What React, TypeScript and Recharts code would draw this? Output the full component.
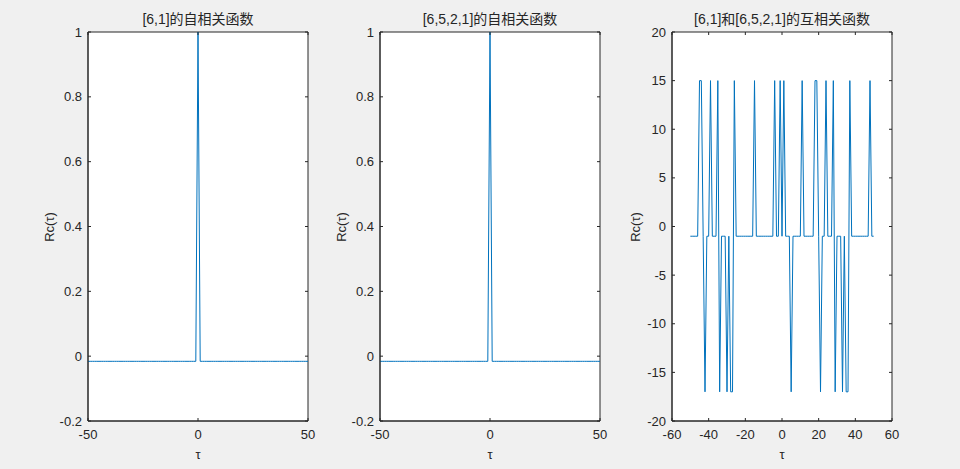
import { LineChart, Line, XAxis, YAxis, ReferenceArea } from 'recharts';

// lag axis shared by all three panels
const lags = [
  -50, -49, -48, -47, -46, -45, -44, -43, -42, -41,
  -40, -39, -38, -37, -36, -35, -34, -33, -32, -31,
  -30, -29, -28, -27, -26, -25, -24, -23, -22, -21,
  -20, -19, -18, -17, -16, -15, -14, -13, -12, -11,
  -10, -9, -8, -7, -6, -5, -4, -3, -2, -1,
  0, 1, 2, 3, 4, 5, 6, 7, 8, 9,
  10, 11, 12, 13, 14, 15, 16, 17, 18, 19,
  20, 21, 22, 23, 24, 25, 26, 27, 28, 29,
  30, 31, 32, 33, 34, 35, 36, 37, 38, 39,
  40, 41, 42, 43, 44, 45, 46, 47, 48, 49,
  50,
];

const autoCorr61 = [
  -0.0159, -0.0159, -0.0159, -0.0159, -0.0159, -0.0159, -0.0159, -0.0159, -0.0159, -0.0159,
  -0.0159, -0.0159, -0.0159, -0.0159, -0.0159, -0.0159, -0.0159, -0.0159, -0.0159, -0.0159,
  -0.0159, -0.0159, -0.0159, -0.0159, -0.0159, -0.0159, -0.0159, -0.0159, -0.0159, -0.0159,
  -0.0159, -0.0159, -0.0159, -0.0159, -0.0159, -0.0159, -0.0159, -0.0159, -0.0159, -0.0159,
  -0.0159, -0.0159, -0.0159, -0.0159, -0.0159, -0.0159, -0.0159, -0.0159, -0.0159, -0.0159,
  1, -0.0159, -0.0159, -0.0159, -0.0159, -0.0159, -0.0159, -0.0159, -0.0159, -0.0159,
  -0.0159, -0.0159, -0.0159, -0.0159, -0.0159, -0.0159, -0.0159, -0.0159, -0.0159, -0.0159,
  -0.0159, -0.0159, -0.0159, -0.0159, -0.0159, -0.0159, -0.0159, -0.0159, -0.0159, -0.0159,
  -0.0159, -0.0159, -0.0159, -0.0159, -0.0159, -0.0159, -0.0159, -0.0159, -0.0159, -0.0159,
  -0.0159, -0.0159, -0.0159, -0.0159, -0.0159, -0.0159, -0.0159, -0.0159, -0.0159, -0.0159,
  -0.0159,
];

const autoCorr6521 = [
  -0.0159, -0.0159, -0.0159, -0.0159, -0.0159, -0.0159, -0.0159, -0.0159, -0.0159, -0.0159,
  -0.0159, -0.0159, -0.0159, -0.0159, -0.0159, -0.0159, -0.0159, -0.0159, -0.0159, -0.0159,
  -0.0159, -0.0159, -0.0159, -0.0159, -0.0159, -0.0159, -0.0159, -0.0159, -0.0159, -0.0159,
  -0.0159, -0.0159, -0.0159, -0.0159, -0.0159, -0.0159, -0.0159, -0.0159, -0.0159, -0.0159,
  -0.0159, -0.0159, -0.0159, -0.0159, -0.0159, -0.0159, -0.0159, -0.0159, -0.0159, -0.0159,
  1, -0.0159, -0.0159, -0.0159, -0.0159, -0.0159, -0.0159, -0.0159, -0.0159, -0.0159,
  -0.0159, -0.0159, -0.0159, -0.0159, -0.0159, -0.0159, -0.0159, -0.0159, -0.0159, -0.0159,
  -0.0159, -0.0159, -0.0159, -0.0159, -0.0159, -0.0159, -0.0159, -0.0159, -0.0159, -0.0159,
  -0.0159, -0.0159, -0.0159, -0.0159, -0.0159, -0.0159, -0.0159, -0.0159, -0.0159, -0.0159,
  -0.0159, -0.0159, -0.0159, -0.0159, -0.0159, -0.0159, -0.0159, -0.0159, -0.0159, -0.0159,
  -0.0159,
];

const crossCorr = [
  -1, -1, -1, -1, -1, 15, 15, -1, -17, -1,
  -1, 15, -1, -1, -1, 15, -17, -1, -1, -1,
  -17, -1, -17, -17, 15, -1, -1, -1, -1, -1,
  -1, -1, -1, -1, -1, 15, -1, -1, -1, -1,
  -1, -1, -1, -1, -1, -1, 15, -1, -1, 15,
  -1, 15, -1, -1, -1, -17, -1, -1, -1, -1,
  -1, 15, -1, -1, -1, -1, -1, -1, 15, 15,
  -1, -17, -1, -1, 15, -1, -1, -1, 15, -17,
  -1, -1, -1, -17, -1, -17, -17, 15, -1, -1,
  -1, -1, -1, -1, -1, -1, -1, -1, 15, -1,
  -1,
];

const autoXTicks = [-50, 0, 50];
const crossXTicks = [-60, -40, -20, 0, 20, 40, 60];
const autoYTicks = [-0.2, 0, 0.2, 0.4, 0.6, 0.8, 1];
const crossYTicks = [-20, -15, -10, -5, 0, 5, 10, 15, 20];

const titles = ['[6,1]的自相关函数', '[6,5,2,1]的自相关函数', '[6,1]和[6,5,2,1]的互相关函数'];

const PLOT_W = 220;
const PLOT_H = 389;
const PLOT_TOP = 32;
const AXIS_W = 60;
const TICK = 3;
const AXIS = '#262626';
const FONT = '"Liberation Sans", Arial, "Noto Sans CJK SC", sans-serif';

const toRows = (vals: number[]) => lags.map((lag, i) => ({ lag, v: vals[i] }));

function XTick({ x, y, payload }: any) {
  return (
    <g>
      <line x1={x} x2={x} y1={y} y2={y - TICK} stroke={AXIS} />
      <line x1={x} x2={x} y1={y - PLOT_H} y2={y - PLOT_H + TICK} stroke={AXIS} />
      <text x={x} y={y + 18} textAnchor="middle" fill={AXIS} fontSize={13} fontFamily={FONT}>
        {payload.value}
      </text>
    </g>
  );
}

function YTick({ x, y, payload }: any) {
  return (
    <g>
      <line x1={x} x2={x + TICK} y1={y} y2={y} stroke={AXIS} />
      <line x1={x + PLOT_W} x2={x + PLOT_W - TICK} y1={y} y2={y} stroke={AXIS} />
      <text x={x - 6} y={y + 4.5} textAnchor="end" fill={AXIS} fontSize={13} fontFamily={FONT}>
        {payload.value}
      </text>
    </g>
  );
}

interface PanelProps {
  left: number;
  values: number[];
  xDomain: [number, number];
  xTicks: number[];
  yDomain: [number, number];
  yTicks: number[];
  title: string;
  yLabelOffset: number;
}

function Panel({ left, values, xDomain, xTicks, yDomain, yTicks, title, yLabelOffset }: PanelProps) {
  const cx = left + PLOT_W / 2;
  return (
    <>
      <div style={{ position: 'absolute', left, top: PLOT_TOP, width: PLOT_W, height: PLOT_H, background: '#fff' }} />
      <div
        style={{
          position: 'absolute', left: cx - 150, width: 300, top: 10, textAlign: 'center',
          fontSize: 14, lineHeight: '18px', color: AXIS, fontFamily: FONT, whiteSpace: 'nowrap',
        }}
      >
        {title}
      </div>
      <div
        style={{
          position: 'absolute', left: cx - 20, width: 40, top: 447, textAlign: 'center',
          fontSize: 13, lineHeight: '16px', color: AXIS, fontFamily: FONT,
        }}
      >
        τ
      </div>
      <div
        style={{
          position: 'absolute', left: left - yLabelOffset, top: PLOT_TOP + PLOT_H / 2,
          transform: 'translate(-50%, -50%) rotate(-90deg)', fontSize: 13, lineHeight: '16px',
          color: AXIS, fontFamily: FONT, whiteSpace: 'nowrap',
        }}
      >
        Rc(τ)
      </div>
      <div style={{ position: 'absolute', left: left - AXIS_W, top: 0 }}>
        <LineChart
          width={AXIS_W + PLOT_W + 12}
          height={469}
          data={toRows(values)}
          margin={{ top: PLOT_TOP, right: 12, bottom: 0, left: 0 }}
        >
          <XAxis
            dataKey="lag"
            type="number"
            domain={xDomain}
            ticks={xTicks}
            height={469 - PLOT_TOP - PLOT_H}
            tickSize={0}
            tickMargin={0}
            tickLine={false}
            axisLine={{ stroke: AXIS }}
            tick={<XTick />}
            interval={0}
          />
          <YAxis
            type="number"
            domain={yDomain}
            ticks={yTicks}
            width={AXIS_W}
            tickSize={0}
            tickMargin={0}
            tickLine={false}
            axisLine={{ stroke: AXIS }}
            tick={<YTick />}
            interval={0}
          />
          <ReferenceArea
            x1={xDomain[0]}
            x2={xDomain[1]}
            y1={yDomain[0]}
            y2={yDomain[1]}
            fill="none"
            fillOpacity={0}
            stroke={AXIS}
            strokeOpacity={1}
          />
          <Line
            type="linear"
            dataKey="v"
            stroke="#0072BD"
            strokeWidth={1}
            dot={false}
            isAnimationActive={false}
          />
        </LineChart>
      </div>
    </>
  );
}

export default function App() {
  return (
    <div style={{ position: 'absolute', left: 0, top: 0, width: 960, height: 469, background: '#f0f0f0', overflow: 'hidden' }}>
      <Panel left={88} values={autoCorr61} xDomain={[-50, 50]} xTicks={autoXTicks} yDomain={[-0.2, 1]} yTicks={autoYTicks} title={titles[0]} yLabelOffset={38} />
      <Panel left={380} values={autoCorr6521} xDomain={[-50, 50]} xTicks={autoXTicks} yDomain={[-0.2, 1]} yTicks={autoYTicks} title={titles[1]} yLabelOffset={38} />
      <Panel left={672} values={crossCorr} xDomain={[-60, 60]} xTicks={crossXTicks} yDomain={[-20, 20]} yTicks={crossYTicks} title={titles[2]} yLabelOffset={36} />
    </div>
  );
}
